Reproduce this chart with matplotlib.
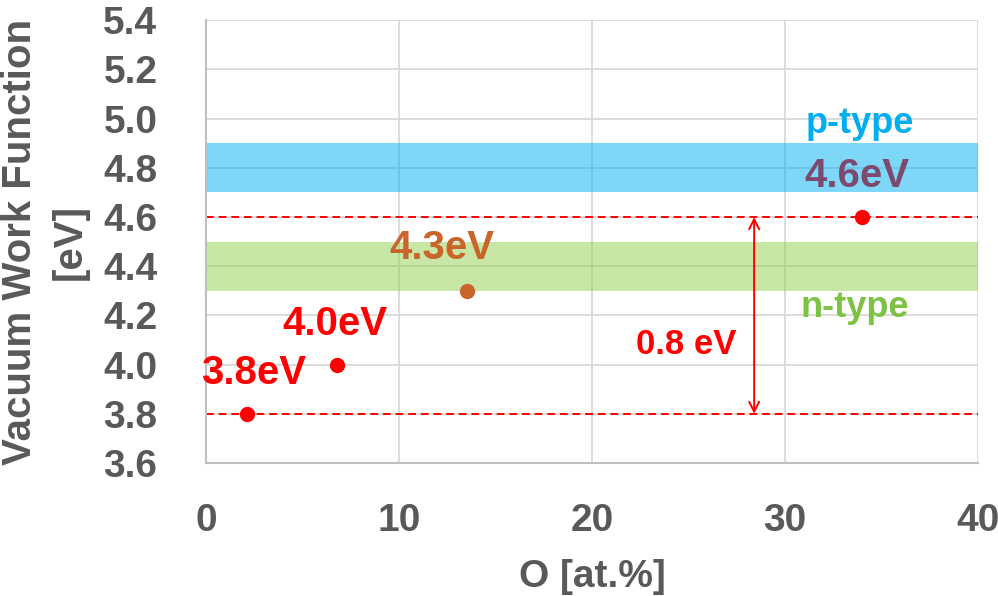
import matplotlib
matplotlib.use("Agg")
import matplotlib.pyplot as plt

# Data
o_content = [2.1, 6.8, 13.5, 34.0]
work_function = [3.8, 4.0, 4.3, 4.6]
point_colors = ['#ff0000', '#ff0000', '#c9652a', '#ff0000']
point_labels = ['3.8eV', '4.0eV', '4.3eV', '4.6eV']
label_pos_x = [2.45, 6.7, 12.2, 33.7]
label_pos_y = [3.965, 4.164, 4.473, 4.766]
label_colors = ['#ff0000', '#ff0000', '#c9652a', '#7b4a6e']
p_band = (4.7, 4.9)
n_band = (4.3, 4.5)
ref_lines = [4.6, 3.8]
x_ticks = [0, 10, 20, 30, 40]
y_ticks = [3.6, 3.8, 4.0, 4.2, 4.4, 4.6, 4.8, 5.0, 5.2, 5.4]

plt.rcParams['font.family'] = ['Liberation Sans', 'DejaVu Sans']
plt.rcParams['font.weight'] = 'bold'

fig = plt.figure(figsize=(9.98, 5.96), dpi=100)
ax = fig.add_axes([0.2064, 0.223, 0.7736, 0.743])

ax.set_xlim(0, 40)
ax.set_ylim(3.6, 5.4)
ax.set_xticks(x_ticks)
ax.set_yticks(y_ticks)
ax.set_yticklabels([f"{v:.1f}" for v in y_ticks])
ax.grid(True, color='#d9d9d9', linewidth=1.3, zorder=0)
ax.set_axisbelow(True)
ax.tick_params(length=0, labelsize=28, colors='#595959')
ax.tick_params(axis='y', pad=35)
ax.tick_params(axis='x', pad=29)
for lab in ax.get_xticklabels() + ax.get_yticklabels():
    lab.set_fontweight('bold')
for s in ['top', 'right']:
    ax.spines[s].set_visible(False)
for s in ['left', 'bottom']:
    ax.spines[s].set_color('#bfbfbf')
    ax.spines[s].set_linewidth(1.5)

ax.axhspan(*p_band, color='#00b0f0', alpha=0.5, lw=0, zorder=1)
ax.axhspan(*n_band, color='#92d050', alpha=0.5, lw=0, zorder=1)

for y in ref_lines:
    ax.axhline(y, color='#ff0000', linestyle=(0, (4, 2.5)), linewidth=1.4, zorder=2)

ax.annotate('', xy=(28.4, 4.6), xytext=(28.4, 3.8),
            arrowprops=dict(arrowstyle='<->', color='#ff0000', lw=1.4,
                            shrinkA=0, shrinkB=0, mutation_scale=18), zorder=3)

for x, y, c in zip(o_content, work_function, point_colors):
    ax.plot([x], [y], 'o', color=c, markersize=10, zorder=4)

for t, x, y, c in zip(point_labels, label_pos_x, label_pos_y, label_colors):
    ax.text(x, y, t, color=c, fontsize=29, fontweight='bold', ha='center', va='center', zorder=5)

ax.text(33.9, 4.98, 'p-type', color='#00aeef', fontsize=26, fontweight='bold', ha='center', va='center')
ax.text(33.6, 4.233, 'n-type', color='#7dc242', fontsize=26, fontweight='bold', ha='center', va='center')
ax.text(24.9, 4.083, '0.8 eV', color='#ff0000', fontsize=25, fontweight='bold', ha='center', va='center')

ax.set_xlabel('O [at.%]', fontsize=28, fontweight='bold', color='#595959', labelpad=14)
ax.set_ylabel('Vacuum Work Function\n[eV]', fontsize=29, fontweight='bold', color='#595959',
              labelpad=10, linespacing=1.4)

fig.savefig('out.png', dpi=100)
